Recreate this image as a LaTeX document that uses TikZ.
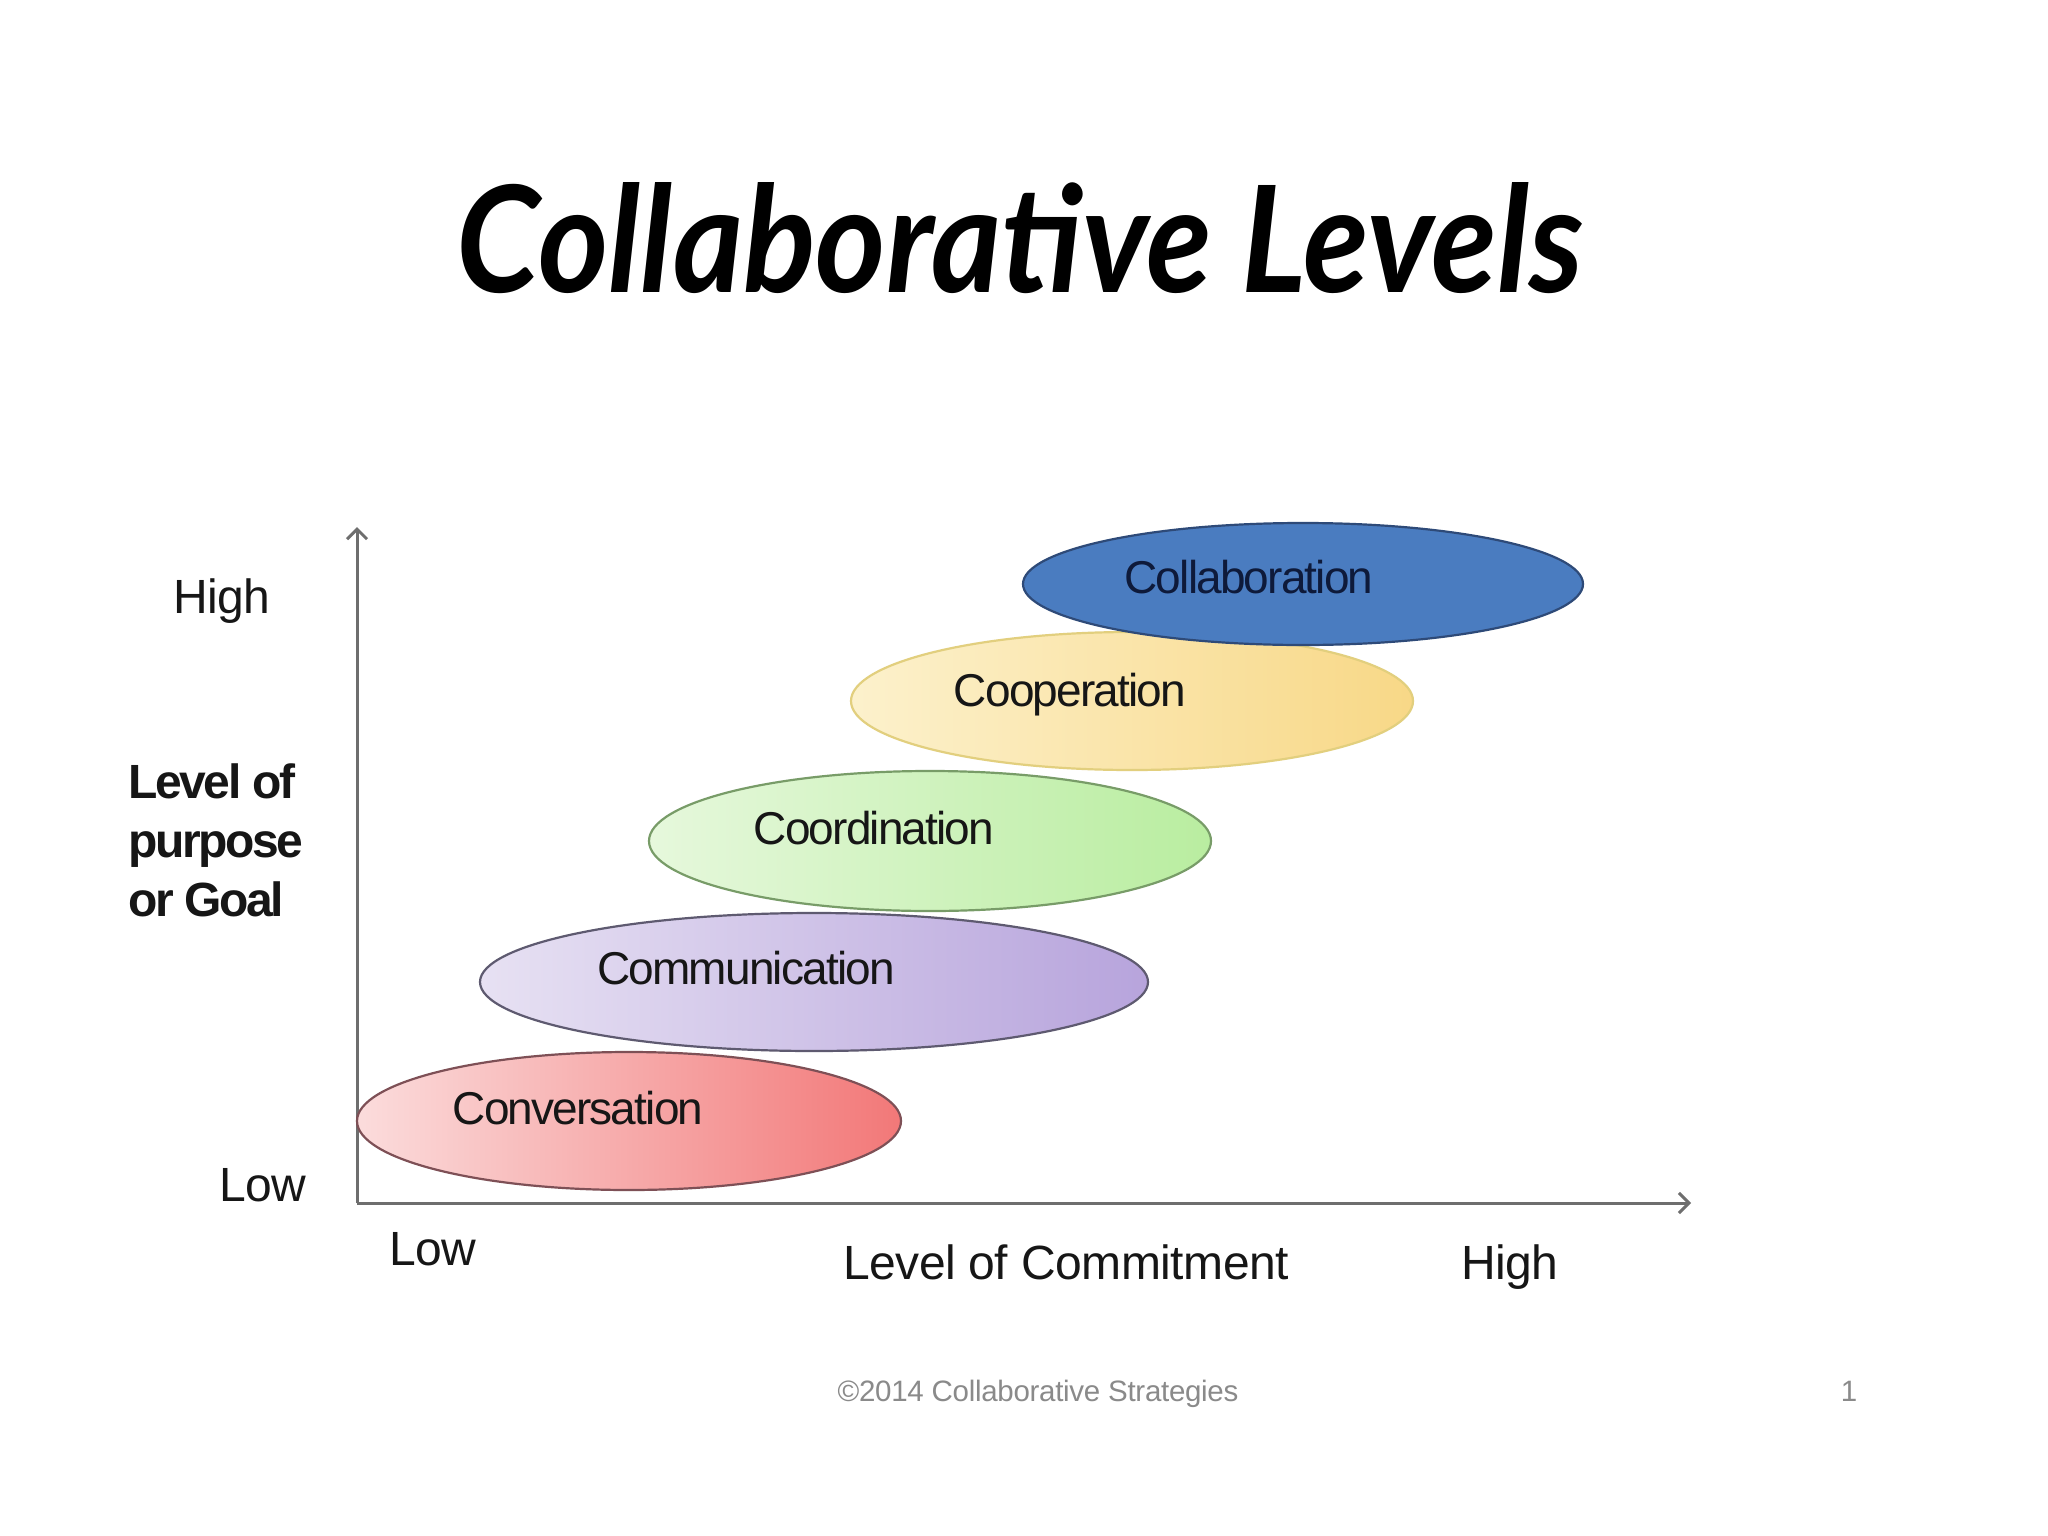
\documentclass[tikz,border=0pt]{standalone}
\usepackage{fontspec}
\setmainfont{Liberation Sans}
\newfontfamily\labelfont{Liberation Sans}[LetterSpace=-4]
\newfontfamily\axisfont{Liberation Sans}[LetterSpace=-1]
\newfontfamily\boldaxisfont{Liberation Sans Bold}[LetterSpace=-5]
\newfontfamily\titlefont{Lato}
\usetikzlibrary{shapes.geometric,arrows.meta}
\definecolor{axisgray}{HTML}{6E6E6E}
\definecolor{collabfill}{HTML}{4A7CC0}
\definecolor{collabline}{HTML}{2E4A78}
\definecolor{coopL}{HTML}{FCF1CC}
\definecolor{coopR}{HTML}{F8D887}
\definecolor{coopline}{HTML}{E2CF7E}
\definecolor{coordL}{HTML}{E6F8DC}
\definecolor{coordR}{HTML}{B9EDA0}
\definecolor{coordline}{HTML}{789C68}
\definecolor{commL}{HTML}{E7E1F3}
\definecolor{commR}{HTML}{B7A4DC}
\definecolor{commline}{HTML}{5E5A70}
\definecolor{convL}{HTML}{FBDCDC}
\definecolor{convR}{HTML}{F27878}
\definecolor{convline}{HTML}{7E5056}
\definecolor{navytext}{HTML}{0E1A3A}
\definecolor{darktext}{HTML}{161616}
\definecolor{footgray}{HTML}{8A8A8A}
\tikzset{
  oval/.style={ellipse, inner sep=0pt, line width=2.2pt},
  ovallabel/.style={anchor=base, inner sep=0pt, text=darktext, font=\labelfont\fontsize{46}{55}\selectfont},
  axislabel/.style={anchor=base, inner sep=0pt, text=darktext, font=\axisfont\fontsize{48}{56}\selectfont},
  footlabel/.style={anchor=base, inner sep=0pt, text=footgray, font=\axisfont\fontsize{29.5}{35}\selectfont},
  axisline/.style={draw=axisgray, line width=3pt, -{Straight Barb[length=10pt,width=20pt]}},
}
\begin{document}
\begin{tikzpicture}[x=1pt,y=-1pt]
\fill[white] (0,0) rectangle (2048,1536);
\useasboundingbox (0,0) rectangle (2048,1536);

% title
\node[inner sep=0pt] (title) at (1020,238)
  {\resizebox{1126pt}{110pt}{\titlefont\bfseries\itshape Collaborative Levels}};

% axes
\coordinate (O) at (357,1203);
\coordinate (ytop) at (357,527);
\coordinate (xend) at (1691,1203);
\draw[axisline] (O) -- (ytop);
\draw[axisline] (O) -- (xend);

% ellipses (bottom to top)
\node[oval, draw=convline, left color=convL, right color=convR,
      minimum width=544pt, minimum height=138pt] (conv) at (629,1121) {};
\node[oval, draw=commline, left color=commL, right color=commR,
      minimum width=668pt, minimum height=138pt] (comm) at (814,982) {};
\node[oval, draw=coordline, left color=coordL, right color=coordR,
      minimum width=562pt, minimum height=140pt] (coord) at (930,841) {};
\node[oval, draw=coopline, left color=coopL, right color=coopR,
      minimum width=562pt, minimum height=138pt] (coop) at (1132,701) {};
\node[oval, draw=collabline, fill=collabfill,
      minimum width=560pt, minimum height=122pt] (collab) at (1303,584) {};

% ellipse labels
\node[ovallabel] (convt) at (578,1124) {Conversation};
\node[ovallabel] (commt) at (746,984) {Communication};
\node[ovallabel] (coordt) at (874,844) {Coordination};
\node[ovallabel] (coopt) at (1070,706) {Cooperation};
\node[ovallabel, text=navytext] (collabt) at (1249,593) {Collaboration};

% axis labels
\node[axislabel] (yhigh) at (222,613) {High};
\node[axislabel] (ylow) at (263,1201) {Low};
\node[anchor=base west, inner sep=0pt, align=left, text=darktext,
      font=\boldaxisfont\fontsize{48}{59}\selectfont] (ytitle) at (128,916)
  {Level of\\purpose\\or Goal};
\node[axislabel] (xlow) at (433,1265) {Low};
\node[axislabel] (xtitle) at (1066,1279) {Level of Commitment};
\node[axislabel] (xhigh) at (1510,1279) {High};

% footer
\node[footlabel] (foot) at (1038,1401) {\textcopyright2014 Collaborative Strategies};
\node[footlabel] (page) at (1849,1401) {1};
\end{tikzpicture}
\end{document}
